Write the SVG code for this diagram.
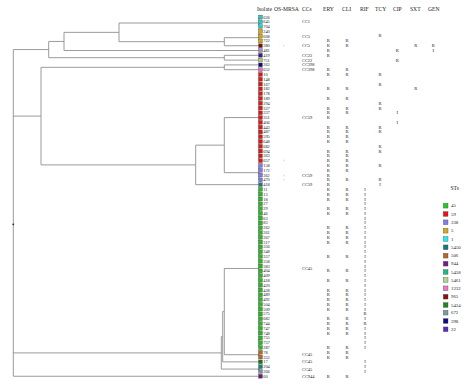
<svg xmlns="http://www.w3.org/2000/svg" width="474" height="388" viewBox="0 0 474 388">
<style>
text{font-family:"Liberation Serif","Times New Roman",serif;fill:#1a1a1a}
.h{font-size:5.6px}
.lb{font-size:4.4px;dominant-baseline:central}
.d{font-size:4.6px;text-anchor:middle;dominant-baseline:central}
.cc{font-size:4.4px;dominant-baseline:central}
.lg{font-size:4.8px;dominant-baseline:central}
.e{fill:none;stroke:#8e8e8e;stroke-width:0.9}
.m{stroke:#444;stroke-width:0.35}
</style>
<rect width="474" height="388" fill="#fff"/>
<g id="connectors">
<path class="e" d="M13.3 49.57V376.25M13.3 49.57H48.7M48.7 41.44V57.7M48.7 41.44H64M64 32.35V50.53M64 32.35H119M64 50.53H259M119 23V41.7M119 23H259M259 17V26.58M119 41.7H224.3M224.3 37.7V45.74M224.3 37.7H259M259 31.37V40.95M224.3 45.74H259M48.7 57.7H224.3M224.3 55.32V60.11M224.3 55.32H259M224.3 60.11H259M13.3 116.1H41M41 67.3V164.9M41 67.3H224.3M224.3 64.9V69.69M224.3 64.9H259M224.3 69.69H259M41 164.9H195.7M195.7 145.13V184.65M195.7 145.13H224.3M195.7 184.65H259M224.3 117.59V172.67M224.3 117.59H259M259 74.48V160.7M224.3 172.67H259M259 165.49V179.86M13.3 352.9H221.3M221.3 336.7V369.07M221.3 336.7H222.7M221.3 369.07H259M259 366.67V371.46M222.7 311.59V361.88M222.7 311.59H224.3M222.7 361.88H259M224.3 268.48V354.7M224.3 268.48H259M259 189.44V347.51M224.3 354.7H259M259 352.3V357.09M13.3 376.25H259"/>
<circle cx="13.3" cy="224.3" r="0.9" fill="#222"/>
</g>
<g id="header">
<text class="h" x="257" y="11">Isolate</text>
<text class="h" x="274" y="11">OS-MRSA</text>
<text class="h" x="302" y="11">CCs</text>
<text class="h" x="323" y="11">ERY</text>
<text class="h" x="342" y="11">CLI</text>
<text class="h" x="360" y="11">RIF</text>
<text class="h" x="375" y="11">TCY</text>
<text class="h" x="393" y="11">CIP</text>
<text class="h" x="410" y="11">SXT</text>
<text class="h" x="428" y="11">GEN</text>
</g>
<g id="leaf-01"><rect class="m" x="258.6" y="15.1" width="3.8" height="3.8" fill="#22cccc"/><text class="lb" x="263.2" y="17">626</text></g>
<g id="leaf-02"><rect class="m" x="258.6" y="19.89" width="3.8" height="3.8" fill="#22cccc"/><text class="lb" x="263.2" y="21.79">645</text><text class="cc" x="302" y="21.79">CC1</text></g>
<g id="leaf-03"><rect class="m" x="258.6" y="24.68" width="3.8" height="3.8" fill="#22cccc"/><text class="lb" x="263.2" y="26.58">704</text></g>
<g id="leaf-04"><rect class="m" x="258.6" y="29.47" width="3.8" height="3.8" fill="#d4a812"/><text class="lb" x="263.2" y="31.37">240</text></g>
<g id="leaf-05"><rect class="m" x="258.6" y="34.26" width="3.8" height="3.8" fill="#d4a812"/><text class="lb" x="263.2" y="36.16">608</text><text class="cc" x="302" y="36.16">CC5</text><text class="d" x="380" y="35">R</text></g>
<g id="leaf-06"><rect class="m" x="258.6" y="39.05" width="3.8" height="3.8" fill="#d4a812"/><text class="lb" x="263.2" y="40.95">722</text><text class="d" x="328.3" y="40.95">R</text><text class="d" x="347" y="40.95">R</text></g>
<g id="leaf-07"><rect class="m" x="258.6" y="43.84" width="3.8" height="3.8" fill="#7a1010"/><text class="lb" x="263.2" y="45.74">380</text><text class="d" x="283.7" y="45.74">+</text><text class="cc" x="302" y="45.74">CC5</text><text class="d" x="328.3" y="45.74">R</text><text class="d" x="347" y="45.74">R</text><text class="d" x="415.7" y="45.74">R</text><text class="d" x="433.3" y="45.74">R</text></g>
<g id="leaf-08"><rect class="m" x="258.6" y="48.63" width="3.8" height="3.8" fill="#a48cc4"/><text class="lb" x="263.2" y="50.53">481</text><text class="d" x="328.3" y="50.53">R</text><text class="d" x="397.3" y="50.53">R</text><text class="d" x="433.3" y="50.53">I</text></g>
<g id="leaf-09"><rect class="m" x="258.6" y="53.42" width="3.8" height="3.8" fill="#3a1a8a"/><text class="lb" x="263.2" y="55.32">419</text><text class="cc" x="302" y="55.32">CC22</text><text class="d" x="328.3" y="55.32">R</text></g>
<g id="leaf-10"><rect class="m" x="258.6" y="58.21" width="3.8" height="3.8" fill="#a8c87c"/><text class="lb" x="263.2" y="60.11">751</text><text class="cc" x="302" y="60.11">CC22</text><text class="d" x="397.3" y="60.11">R</text></g>
<g id="leaf-11"><rect class="m" x="258.6" y="63" width="3.8" height="3.8" fill="#0a0a7a"/><text class="lb" x="263.2" y="64.9">263</text><text class="cc" x="302" y="64.9">CC398</text></g>
<g id="leaf-12"><rect class="m" x="258.6" y="67.79" width="3.8" height="3.8" fill="#e070c0"/><text class="lb" x="263.2" y="69.69">652</text><text class="cc" x="302" y="69.69">CC398</text><text class="d" x="328.3" y="69.69">R</text><text class="d" x="347" y="69.69">R</text></g>
<g id="leaf-13"><rect class="m" x="258.6" y="72.58" width="3.8" height="3.8" fill="#e01515"/><text class="lb" x="263.2" y="74.48">10</text><text class="d" x="328.3" y="74.48">R</text><text class="d" x="347" y="74.48">R</text><text class="d" x="380" y="74.48">R</text></g>
<g id="leaf-14"><rect class="m" x="258.6" y="77.37" width="3.8" height="3.8" fill="#e01515"/><text class="lb" x="263.2" y="79.27">148</text></g>
<g id="leaf-15"><rect class="m" x="258.6" y="82.16" width="3.8" height="3.8" fill="#e01515"/><text class="lb" x="263.2" y="84.06">167</text><text class="d" x="380" y="84.06">R</text></g>
<g id="leaf-16"><rect class="m" x="258.6" y="86.95" width="3.8" height="3.8" fill="#e01515"/><text class="lb" x="263.2" y="88.85">182</text><text class="d" x="328.3" y="88.85">R</text><text class="d" x="347" y="88.85">R</text><text class="d" x="415.7" y="88.85">R</text></g>
<g id="leaf-17"><rect class="m" x="258.6" y="91.74" width="3.8" height="3.8" fill="#e01515"/><text class="lb" x="263.2" y="93.64">178</text></g>
<g id="leaf-18"><rect class="m" x="258.6" y="96.53" width="3.8" height="3.8" fill="#e01515"/><text class="lb" x="263.2" y="98.43">189</text><text class="d" x="328.3" y="98.43">R</text><text class="d" x="347" y="98.43">R</text></g>
<g id="leaf-19"><rect class="m" x="258.6" y="101.32" width="3.8" height="3.8" fill="#e01515"/><text class="lb" x="263.2" y="103.22">294</text><text class="d" x="380" y="103.22">R</text></g>
<g id="leaf-20"><rect class="m" x="258.6" y="106.11" width="3.8" height="3.8" fill="#e01515"/><text class="lb" x="263.2" y="108.01">327</text><text class="d" x="328.3" y="108.01">R</text><text class="d" x="347" y="108.01">R</text><text class="d" x="380" y="108.01">R</text></g>
<g id="leaf-21"><rect class="m" x="258.6" y="110.9" width="3.8" height="3.8" fill="#e01515"/><text class="lb" x="263.2" y="112.8">337</text><text class="d" x="328.3" y="112.8">R</text><text class="d" x="347" y="112.8">R</text><text class="d" x="397.3" y="112.8">I</text></g>
<g id="leaf-22"><rect class="m" x="258.6" y="115.69" width="3.8" height="3.8" fill="#e01515"/><text class="lb" x="263.2" y="117.59">351</text><text class="cc" x="302" y="117.59">CC59</text><text class="d" x="328.3" y="117.59">R</text></g>
<g id="leaf-23"><rect class="m" x="258.6" y="120.48" width="3.8" height="3.8" fill="#e01515"/><text class="lb" x="263.2" y="122.38">406</text><text class="d" x="397.3" y="122.38">I</text></g>
<g id="leaf-24"><rect class="m" x="258.6" y="125.27" width="3.8" height="3.8" fill="#e01515"/><text class="lb" x="263.2" y="127.17">443</text><text class="d" x="328.3" y="127.17">R</text><text class="d" x="347" y="127.17">R</text><text class="d" x="380" y="127.17">R</text></g>
<g id="leaf-25"><rect class="m" x="258.6" y="130.06" width="3.8" height="3.8" fill="#e01515"/><text class="lb" x="263.2" y="131.96">487</text><text class="d" x="328.3" y="131.96">R</text><text class="d" x="347" y="131.96">R</text><text class="d" x="380" y="131.96">R</text></g>
<g id="leaf-26"><rect class="m" x="258.6" y="134.85" width="3.8" height="3.8" fill="#e01515"/><text class="lb" x="263.2" y="136.75">595</text><text class="d" x="328.3" y="136.75">R</text><text class="d" x="347" y="136.75">R</text></g>
<g id="leaf-27"><rect class="m" x="258.6" y="139.64" width="3.8" height="3.8" fill="#e01515"/><text class="lb" x="263.2" y="141.54">648</text><text class="d" x="328.3" y="141.54">R</text><text class="d" x="347" y="141.54">R</text></g>
<g id="leaf-28"><rect class="m" x="258.6" y="144.43" width="3.8" height="3.8" fill="#e01515"/><text class="lb" x="263.2" y="146.33">682</text><text class="d" x="380" y="146.33">R</text></g>
<g id="leaf-29"><rect class="m" x="258.6" y="149.22" width="3.8" height="3.8" fill="#e01515"/><text class="lb" x="263.2" y="151.12">694</text><text class="d" x="328.3" y="151.12">R</text><text class="d" x="347" y="151.12">R</text><text class="d" x="380" y="151.12">R</text></g>
<g id="leaf-30"><rect class="m" x="258.6" y="154.01" width="3.8" height="3.8" fill="#e01515"/><text class="lb" x="263.2" y="155.91">363</text><text class="d" x="328.3" y="155.91">R</text><text class="d" x="347" y="155.91">R</text></g>
<g id="leaf-31"><rect class="m" x="258.6" y="158.8" width="3.8" height="3.8" fill="#e01515"/><text class="lb" x="263.2" y="160.7">657</text><text class="d" x="283.7" y="160.7">+</text><text class="d" x="328.3" y="160.7">R</text><text class="d" x="347" y="160.7">R</text></g>
<g id="leaf-32"><rect class="m" x="258.6" y="163.59" width="3.8" height="3.8" fill="#7b7bee"/><text class="lb" x="263.2" y="165.49">158</text><text class="d" x="328.3" y="165.49">R</text><text class="d" x="347" y="165.49">R</text><text class="d" x="380" y="165.49">R</text></g>
<g id="leaf-33"><rect class="m" x="258.6" y="168.38" width="3.8" height="3.8" fill="#7b7bee"/><text class="lb" x="263.2" y="170.28">172</text><text class="d" x="328.3" y="170.28">R</text><text class="d" x="347" y="170.28">R</text></g>
<g id="leaf-34"><rect class="m" x="258.6" y="173.17" width="3.8" height="3.8" fill="#7b7bee"/><text class="lb" x="263.2" y="175.07">362</text><text class="d" x="283.7" y="175.07">+</text><text class="cc" x="302" y="175.07">CC59</text><text class="d" x="328.3" y="175.07">R</text></g>
<g id="leaf-35"><rect class="m" x="258.6" y="177.96" width="3.8" height="3.8" fill="#7b7bee"/><text class="lb" x="263.2" y="179.86">470</text><text class="d" x="283.7" y="179.86">+</text><text class="d" x="328.3" y="179.86">R</text><text class="d" x="347" y="179.86">R</text><text class="d" x="380" y="179.86">R</text></g>
<g id="leaf-36"><rect class="m" x="258.6" y="182.75" width="3.8" height="3.8" fill="#1e7e7e"/><text class="lb" x="263.2" y="184.65">418</text><text class="cc" x="302" y="184.65">CC59</text><text class="d" x="328.3" y="184.65">R</text><text class="d" x="380" y="184.65">I</text></g>
<g id="leaf-37"><rect class="m" x="258.6" y="187.54" width="3.8" height="3.8" fill="#22bb22"/><text class="lb" x="263.2" y="189.44">11</text><text class="d" x="328.3" y="189.44">R</text><text class="d" x="347" y="189.44">R</text><text class="d" x="365" y="189.44">I</text></g>
<g id="leaf-38"><rect class="m" x="258.6" y="192.33" width="3.8" height="3.8" fill="#22bb22"/><text class="lb" x="263.2" y="194.23">13</text><text class="d" x="328.3" y="194.23">R</text><text class="d" x="347" y="194.23">R</text><text class="d" x="365" y="194.23">I</text></g>
<g id="leaf-39"><rect class="m" x="258.6" y="197.12" width="3.8" height="3.8" fill="#22bb22"/><text class="lb" x="263.2" y="199.02">18</text><text class="d" x="328.3" y="199.02">R</text><text class="d" x="347" y="199.02">R</text><text class="d" x="365" y="199.02">I</text></g>
<g id="leaf-40"><rect class="m" x="258.6" y="201.91" width="3.8" height="3.8" fill="#22bb22"/><text class="lb" x="263.2" y="203.81">27</text><text class="d" x="365" y="203.81">I</text></g>
<g id="leaf-41"><rect class="m" x="258.6" y="206.7" width="3.8" height="3.8" fill="#22bb22"/><text class="lb" x="263.2" y="208.6">29</text><text class="d" x="328.3" y="208.6">R</text><text class="d" x="347" y="208.6">R</text><text class="d" x="365" y="208.6">I</text></g>
<g id="leaf-42"><rect class="m" x="258.6" y="211.49" width="3.8" height="3.8" fill="#22bb22"/><text class="lb" x="263.2" y="213.39">46</text><text class="d" x="328.3" y="213.39">R</text><text class="d" x="347" y="213.39">R</text><text class="d" x="365" y="213.39">I</text></g>
<g id="leaf-43"><rect class="m" x="258.6" y="216.28" width="3.8" height="3.8" fill="#22bb22"/><text class="lb" x="263.2" y="218.18">63</text><text class="d" x="365" y="218.18">I</text></g>
<g id="leaf-44"><rect class="m" x="258.6" y="221.07" width="3.8" height="3.8" fill="#22bb22"/><text class="lb" x="263.2" y="222.97">83</text><text class="d" x="365" y="222.97">I</text></g>
<g id="leaf-45"><rect class="m" x="258.6" y="225.86" width="3.8" height="3.8" fill="#22bb22"/><text class="lb" x="263.2" y="227.76">262</text><text class="d" x="328.3" y="227.76">R</text><text class="d" x="347" y="227.76">R</text><text class="d" x="365" y="227.76">I</text></g>
<g id="leaf-46"><rect class="m" x="258.6" y="230.65" width="3.8" height="3.8" fill="#22bb22"/><text class="lb" x="263.2" y="232.55">261</text><text class="d" x="328.3" y="232.55">R</text><text class="d" x="347" y="232.55">R</text><text class="d" x="365" y="232.55">I</text></g>
<g id="leaf-47"><rect class="m" x="258.6" y="235.44" width="3.8" height="3.8" fill="#22bb22"/><text class="lb" x="263.2" y="237.34">267</text><text class="d" x="328.3" y="237.34">R</text><text class="d" x="347" y="237.34">R</text><text class="d" x="365" y="237.34">I</text></g>
<g id="leaf-48"><rect class="m" x="258.6" y="240.23" width="3.8" height="3.8" fill="#22bb22"/><text class="lb" x="263.2" y="242.13">317</text><text class="d" x="328.3" y="242.13">R</text><text class="d" x="347" y="242.13">R</text><text class="d" x="365" y="242.13">I</text></g>
<g id="leaf-49"><rect class="m" x="258.6" y="245.02" width="3.8" height="3.8" fill="#22bb22"/><text class="lb" x="263.2" y="246.92">356</text><text class="d" x="365" y="246.92">I</text></g>
<g id="leaf-50"><rect class="m" x="258.6" y="249.81" width="3.8" height="3.8" fill="#22bb22"/><text class="lb" x="263.2" y="251.71">348</text><text class="d" x="365" y="251.71">I</text></g>
<g id="leaf-51"><rect class="m" x="258.6" y="254.6" width="3.8" height="3.8" fill="#22bb22"/><text class="lb" x="263.2" y="256.5">357</text><text class="d" x="328.3" y="256.5">R</text><text class="d" x="347" y="256.5">R</text><text class="d" x="365" y="256.5">I</text></g>
<g id="leaf-52"><rect class="m" x="258.6" y="259.39" width="3.8" height="3.8" fill="#22bb22"/><text class="lb" x="263.2" y="261.29">358</text><text class="d" x="365" y="261.29">I</text></g>
<g id="leaf-53"><rect class="m" x="258.6" y="264.18" width="3.8" height="3.8" fill="#22bb22"/><text class="lb" x="263.2" y="266.08">383</text><text class="cc" x="302" y="268.4">CC45</text><text class="d" x="365" y="266.08">I</text></g>
<g id="leaf-54"><rect class="m" x="258.6" y="268.97" width="3.8" height="3.8" fill="#22bb22"/><text class="lb" x="263.2" y="270.87">404</text><text class="d" x="328.3" y="270.87">R</text><text class="d" x="347" y="270.87">R</text><text class="d" x="365" y="270.87">I</text></g>
<g id="leaf-55"><rect class="m" x="258.6" y="273.76" width="3.8" height="3.8" fill="#22bb22"/><text class="lb" x="263.2" y="275.66">409</text><text class="d" x="365" y="275.66">I</text></g>
<g id="leaf-56"><rect class="m" x="258.6" y="278.55" width="3.8" height="3.8" fill="#22bb22"/><text class="lb" x="263.2" y="280.45">418</text><text class="d" x="328.3" y="280.45">R</text><text class="d" x="347" y="280.45">R</text><text class="d" x="365" y="280.45">I</text></g>
<g id="leaf-57"><rect class="m" x="258.6" y="283.34" width="3.8" height="3.8" fill="#22bb22"/><text class="lb" x="263.2" y="285.24">420</text><text class="d" x="365" y="285.24">I</text></g>
<g id="leaf-58"><rect class="m" x="258.6" y="288.13" width="3.8" height="3.8" fill="#22bb22"/><text class="lb" x="263.2" y="290.03">428</text><text class="d" x="328.3" y="290.03">R</text><text class="d" x="347" y="290.03">R</text><text class="d" x="365" y="290.03">I</text></g>
<g id="leaf-59"><rect class="m" x="258.6" y="292.92" width="3.8" height="3.8" fill="#22bb22"/><text class="lb" x="263.2" y="294.82">489</text><text class="d" x="328.3" y="294.82">R</text><text class="d" x="347" y="294.82">R</text><text class="d" x="365" y="294.82">I</text></g>
<g id="leaf-60"><rect class="m" x="258.6" y="297.71" width="3.8" height="3.8" fill="#22bb22"/><text class="lb" x="263.2" y="299.61">492</text><text class="d" x="328.3" y="299.61">R</text><text class="d" x="347" y="299.61">R</text><text class="d" x="365" y="299.61">I</text></g>
<g id="leaf-61"><rect class="m" x="258.6" y="302.5" width="3.8" height="3.8" fill="#22bb22"/><text class="lb" x="263.2" y="304.4">504</text><text class="d" x="328.3" y="304.4">R</text><text class="d" x="347" y="304.4">R</text><text class="d" x="365" y="304.4">I</text></g>
<g id="leaf-62"><rect class="m" x="258.6" y="307.29" width="3.8" height="3.8" fill="#22bb22"/><text class="lb" x="263.2" y="309.19">509</text><text class="d" x="328.3" y="309.19">R</text><text class="d" x="347" y="309.19">R</text><text class="d" x="365" y="309.19">I</text></g>
<g id="leaf-63"><rect class="m" x="258.6" y="312.08" width="3.8" height="3.8" fill="#22bb22"/><text class="lb" x="263.2" y="313.98">575</text><text class="d" x="365" y="313.98">R</text></g>
<g id="leaf-64"><rect class="m" x="258.6" y="316.87" width="3.8" height="3.8" fill="#22bb22"/><text class="lb" x="263.2" y="318.77">682</text><text class="d" x="328.3" y="318.77">R</text><text class="d" x="347" y="318.77">R</text><text class="d" x="365" y="318.77">I</text></g>
<g id="leaf-65"><rect class="m" x="258.6" y="321.66" width="3.8" height="3.8" fill="#22bb22"/><text class="lb" x="263.2" y="323.56">744</text><text class="d" x="328.3" y="323.56">R</text><text class="d" x="347" y="323.56">R</text><text class="d" x="365" y="323.56">R</text></g>
<g id="leaf-66"><rect class="m" x="258.6" y="326.45" width="3.8" height="3.8" fill="#22bb22"/><text class="lb" x="263.2" y="328.35">747</text><text class="d" x="328.3" y="328.35">R</text><text class="d" x="347" y="328.35">R</text><text class="d" x="365" y="328.35">I</text></g>
<g id="leaf-67"><rect class="m" x="258.6" y="331.24" width="3.8" height="3.8" fill="#22bb22"/><text class="lb" x="263.2" y="333.14">748</text><text class="d" x="328.3" y="333.14">R</text><text class="d" x="347" y="333.14">R</text><text class="d" x="365" y="333.14">I</text></g>
<g id="leaf-68"><rect class="m" x="258.6" y="336.03" width="3.8" height="3.8" fill="#22bb22"/><text class="lb" x="263.2" y="337.93">755</text><text class="d" x="365" y="337.93">I</text></g>
<g id="leaf-69"><rect class="m" x="258.6" y="340.82" width="3.8" height="3.8" fill="#22bb22"/><text class="lb" x="263.2" y="342.72">757</text><text class="d" x="365" y="342.72">I</text></g>
<g id="leaf-70"><rect class="m" x="258.6" y="345.61" width="3.8" height="3.8" fill="#22bb22"/><text class="lb" x="263.2" y="347.51">287</text><text class="d" x="328.3" y="347.51">R</text><text class="d" x="347" y="347.51">R</text><text class="d" x="365" y="347.51">I</text></g>
<g id="leaf-71"><rect class="m" x="258.6" y="350.4" width="3.8" height="3.8" fill="#b8652a"/><text class="lb" x="263.2" y="352.3">78</text><text class="cc" x="302" y="354.7">CC45</text><text class="d" x="328.3" y="352.3">R</text><text class="d" x="347" y="352.3">R</text></g>
<g id="leaf-72"><rect class="m" x="258.6" y="355.19" width="3.8" height="3.8" fill="#b8652a"/><text class="lb" x="263.2" y="357.09">352</text><text class="d" x="328.3" y="357.09">R</text><text class="d" x="347" y="357.09">R</text></g>
<g id="leaf-73"><rect class="m" x="258.6" y="359.98" width="3.8" height="3.8" fill="#1a7a1a"/><text class="lb" x="263.2" y="361.88">17</text><text class="cc" x="302" y="361.88">CC45</text><text class="d" x="365" y="361.88">I</text></g>
<g id="leaf-74"><rect class="m" x="258.6" y="364.77" width="3.8" height="3.8" fill="#1e7e7e"/><text class="lb" x="263.2" y="366.67">204</text><text class="cc" x="302" y="369.07">CC45</text><text class="d" x="365" y="366.67">I</text></g>
<g id="leaf-75"><rect class="m" x="258.6" y="369.56" width="3.8" height="3.8" fill="#6e98a8"/><text class="lb" x="263.2" y="371.46">266</text><text class="d" x="365" y="371.46">I</text></g>
<g id="leaf-76"><rect class="m" x="258.6" y="374.35" width="3.8" height="3.8" fill="#6a1a7a"/><text class="lb" x="263.2" y="376.25">60</text><text class="cc" x="302" y="376.25">CC944</text><text class="d" x="328.3" y="376.25">R</text><text class="d" x="347" y="376.25">R</text></g>
<g id="legend">
<text class="h" x="450.5" y="190">STs</text>
<rect class="m" x="443.3" y="203.35" width="4.7" height="4.7" fill="#22cc22"/><text class="lg" x="451" y="205.7">45</text>
<rect class="m" x="443.3" y="211.65" width="4.7" height="4.7" fill="#ee1111"/><text class="lg" x="451" y="214">59</text>
<rect class="m" x="443.3" y="219.95" width="4.7" height="4.7" fill="#8080ee"/><text class="lg" x="451" y="222.3">338</text>
<rect class="m" x="443.3" y="228.35" width="4.7" height="4.7" fill="#d8aa10"/><text class="lg" x="451" y="230.7">5</text>
<rect class="m" x="443.3" y="236.65" width="4.7" height="4.7" fill="#22eeee"/><text class="lg" x="451" y="239">1</text>
<rect class="m" x="443.3" y="244.95" width="4.7" height="4.7" fill="#1a7878"/><text class="lg" x="451" y="247.3">5450</text>
<rect class="m" x="443.3" y="253.35" width="4.7" height="4.7" fill="#b8652a"/><text class="lg" x="451" y="255.7">506</text>
<rect class="m" x="443.3" y="261.35" width="4.7" height="4.7" fill="#7a1a8a"/><text class="lg" x="451" y="263.7">944</text>
<rect class="m" x="443.3" y="269.65" width="4.7" height="4.7" fill="#22bb77"/><text class="lg" x="451" y="272">5458</text>
<rect class="m" x="443.3" y="277.65" width="4.7" height="4.7" fill="#aad890"/><text class="lg" x="451" y="280">5461</text>
<rect class="m" x="443.3" y="285.95" width="4.7" height="4.7" fill="#e878c8"/><text class="lg" x="451" y="288.3">1232</text>
<rect class="m" x="443.3" y="294.35" width="4.7" height="4.7" fill="#8a1010"/><text class="lg" x="451" y="296.7">965</text>
<rect class="m" x="443.3" y="302.65" width="4.7" height="4.7" fill="#1a8a1a"/><text class="lg" x="451" y="305">5434</text>
<rect class="m" x="443.3" y="310.35" width="4.7" height="4.7" fill="#7a9aa8"/><text class="lg" x="451" y="312.7">672</text>
<rect class="m" x="443.3" y="318.65" width="4.7" height="4.7" fill="#0a0a8a"/><text class="lg" x="451" y="321">398</text>
<rect class="m" x="443.3" y="326.95" width="4.7" height="4.7" fill="#5a2ac0"/><text class="lg" x="451" y="329.3">22</text>
</g>
</svg>
